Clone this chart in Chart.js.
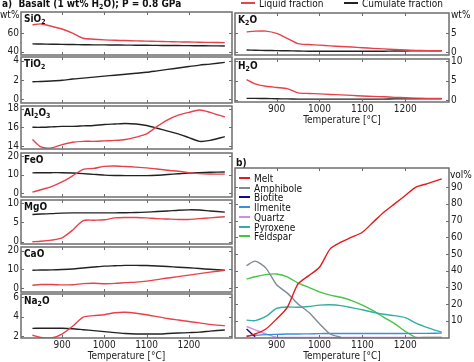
<!DOCTYPE html>
<html>
<head>
<meta charset="utf-8">
<script src="https://cdn.jsdelivr.net/npm/chart.js@4.4.1/dist/chart.umd.min.js"></script>
<style>
html, body { margin:0; padding:0; background:#fff; }
body { width:474px; height:362px; position:relative; overflow:hidden;
  font-family:"DejaVu Sans Condensed","DejaVu Sans",sans-serif; font-size:10px; color:#111; }
.box { position:absolute; }
.txt { position:absolute; white-space:nowrap; line-height:12px; height:12px; }
.b { font-weight:bold; }
sub { font-size:70%; vertical-align:-2px; line-height:0; }
.key i { display:inline-block; width:11px; height:2px; vertical-align:middle; margin-right:4px; position:relative; top:-1px; }
</style>
</head>
<body>
<script>
// temperature steps (°C) shared by all series
const temps = [830, 850, 875, 900, 925, 950, 975, 1000, 1025, 1050, 1075, 1100, 1125, 1150, 1175, 1200, 1225, 1250, 1285];
const xTicks = [900, 1000, 1100, 1200];

// a) oxide wt% in liquid / cumulate
const sio2Liq = [69, 70, 67.5, 64.5, 60, 54.5, 53.5, 52.8, 52.3, 52, 51.7, 51.4, 51.1, 50.9, 50.6, 50.4, 50.2, 50, 49.8];
const sio2Cum = [48.4, 48.3, 48.1, 47.9, 47.7, 47.5, 47.4, 47.3, 47.2, 47.1, 47, 46.9, 46.8, 46.7, 46.6, 46.5, 46.4, 46.3, 46.2];
const tio2Cum = [1.82, 1.85, 1.9, 1.97, 2.1, 2.2, 2.3, 2.4, 2.5, 2.6, 2.7, 2.8, 2.95, 3.1, 3.25, 3.4, 3.55, 3.65, 3.83];
const al2o3Liq = [14.7, 13.9, 13.8, 14.15, 14.4, 14.5, 14.5, 14.55, 14.6, 14.7, 14.95, 15.3, 16.1, 16.8, 17.3, 17.6, 17.85, 17.6, 17.1];
const al2o3Cum = [16.0, 16.0, 16.05, 16.1, 16.1, 16.15, 16.2, 16.3, 16.35, 16.4, 16.35, 16.2, 15.9, 15.6, 15.3, 14.9, 14.5, 14.6, 15.0];
const feoLiq = [0.5, 1.8, 3.5, 6.0, 9.3, 12.8, 13.3, 14.4, 14.6, 14.3, 14.0, 13.6, 13.0, 12.3, 11.8, 11.0, 10.5, 10.3, 10.2];
const feoCum = [10.9, 10.95, 11, 11, 10.8, 10.5, 10.1, 9.7, 9.5, 9.4, 9.4, 9.4, 9.6, 10, 10.4, 10.8, 11, 11.2, 11.4];
const mgoLiq = [0, 0.1, 0.4, 1.0, 3.0, 5.5, 5.6, 5.7, 6.2, 6.3, 6.3, 6.2, 6.0, 5.9, 5.8, 5.8, 6.0, 6.2, 6.5];
const mgoCum = [7.1, 7.2, 7.3, 7.45, 7.5, 7.5, 7.5, 7.5, 7.5, 7.55, 7.6, 7.7, 7.85, 8.0, 8.2, 8.3, 8.25, 8.0, 7.7];
const caoLiq = [1.6, 2.0, 2.0, 1.8, 1.9, 2.5, 2.7, 2.4, 2.6, 3.0, 3.3, 3.8, 4.6, 5.5, 6.2, 7.0, 7.8, 8.6, 9.6];
const caoCum = [9.6, 9.7, 9.8, 10.0, 10.3, 10.8, 11.3, 11.8, 12.0, 12.2, 12.2, 12.1, 11.9, 11.6, 11.2, 10.9, 10.5, 10.1, 9.6];
const na2oLiq = [2.07, 1.85, 1.8, 2.2, 3.0, 3.95, 4.1, 4.2, 4.4, 4.45, 4.35, 4.2, 4.0, 3.8, 3.65, 3.5, 3.35, 3.2, 3.05];
const na2oCum = [2.79, 2.8, 2.8, 2.8, 2.75, 2.65, 2.55, 2.45, 2.35, 2.25, 2.2, 2.2, 2.2, 2.25, 2.3, 2.35, 2.4, 2.5, 2.62];
const k2oLiq = [5.4, 5.6, 5.6, 5.0, 3.7, 2.3, 2.05, 1.9, 1.7, 1.55, 1.4, 1.2, 1.05, 0.9, 0.75, 0.6, 0.5, 0.45, 0.4];
const k2oCum = [0.6, 0.55, 0.5, 0.45, 0.4, 0.35, 0.3, 0.3, 0.3, 0.3, 0.3, 0.3, 0.3, 0.3, 0.35, 0.35, 0.4, 0.4, 0.4];
const h2oLiq = [5.3, 4.2, 3.6, 3.3, 3.0, 1.9, 1.75, 1.65, 1.5, 1.4, 1.25, 1.1, 1.0, 0.9, 0.75, 0.65, 0.55, 0.5, 0.5];
const h2oCum = [0.5, 0.5, 0.45, 0.4, 0.35, 0.3, 0.3, 0.3, 0.3, 0.3, 0.3, 0.3, 0.3, 0.3, 0.35, 0.35, 0.4, 0.4, 0.4];

// b) phase proportions, vol%
const phaseNames = ['Melt', 'Amphibole', 'Biotite', 'Ilmenite', 'Quartz', 'Pyroxene', 'Feldspar'];
const melt = [0.5, 2, 5, 11, 18, 32, 37, 42, 53, 57, 60, 63, 69, 75, 80, 85, 90, 92, 95];
const amphibole = [43, 45.7, 41.5, 31.5, 26.5, 20, 15, 8.2, 2, 0, null, null, null, null, null, null, null, null, null];
const biotite = [5, 0.3, null, null, null, null, null, null, null, null, null, null, null, null, null, null, null, null, null];
const ilmenite = [0.8, 1.2, 1.6, 1.8, 2, 2, 2.1, 2.2, 2.3, 2.3, 2.3, 2.3, 2.3, 2.3, 2.3, 2.3, 2.4, 2.4, 2.5];
const quartz = [6.5, 4.5, 2, 0, 0, 0, 0, 0, 0, 0, 0, 0, 0, 0, 0, 0, 0, 0, 0];
const pyroxene = [10.3, 10, 12.5, 17.3, 18.2, 18, 18.5, 19.3, 19.5, 19, 17.8, 16.5, 15, 13.8, 13, 11.8, 8.5, 6, 3];
const feldspar = [35, 36.3, 37.6, 38, 36.3, 32.5, 30, 27.3, 25.3, 24, 22, 19.3, 16, 12, 8.2, 3.6, 0, 0, 0];
const phaseValues = [melt, amphibole, biotite, ilmenite, quartz, pyroxene, feldspar];
const phaseColors = ['#e41a1c', '#808a94', '#0a0a9e', '#3a8ee0', '#d58be0', '#34aea5', '#46c446'];

const liqColor = '#e8414b';
const cumColor = '#222222';
const frameColor = '#6e6e6e';
const font = { family: "'DejaVu Sans Condensed', 'DejaVu Sans'", size: 10 };

const pts = (vals) => temps.map((t, i) => ({ x: t, y: vals[i] }));

// frame around the plot area + inward tick marks
const framePlugin = {
    id: 'frame',
    afterDatasetsDraw(chart) {
        const { ctx, chartArea: a, scales } = chart;
        ctx.save();
        ctx.strokeStyle = frameColor;
        ctx.lineWidth = 1.5;
        ctx.strokeRect(a.left, a.top, a.width, a.height);
        ctx.lineWidth = 1;
        ctx.beginPath();
        for (const v of xTicks) {
            const px = Math.round(scales.x.getPixelForValue(v)) + 0.5;
            ctx.moveTo(px, a.top); ctx.lineTo(px, a.top + 3);
            ctx.moveTo(px, a.bottom); ctx.lineTo(px, a.bottom - 3);
        }
        for (const t of scales.y.ticks) {
            const py = Math.round(scales.y.getPixelForValue(t.value)) + 0.5;
            ctx.moveTo(a.left, py); ctx.lineTo(a.left + 3, py);
            ctx.moveTo(a.right, py); ctx.lineTo(a.right - 3, py);
        }
        ctx.stroke();
        ctx.restore();
    }
};

const addText = (html, left, top, cls) => {
    const d = document.createElement('div');
    d.className = 'txt ' + (cls || '');
    d.style.left = left + 'px';
    d.style.top = top + 'px';
    d.innerHTML = html;
    document.body.appendChild(d);
    return d;
};

const addPanel = (p) => {
    const isLeft = p.side === 'left';
    const padTop = 8;
    const axisH = p.xAxis ? 24 : 8;
    const div = document.createElement('div');
    div.className = 'box';
    div.style.left = (isLeft ? 0 : 233) + 'px';
    div.style.top = (p.top - padTop) + 'px';
    div.style.width = (isLeft ? 233 : 241) + 'px';
    div.style.height = (p.bottom - p.top + padTop + axisH) + 'px';
    const cv = document.createElement('canvas');
    div.appendChild(cv);
    document.body.appendChild(div);

    new Chart(cv, {
        type: 'line',
        data: { datasets: p.series.map(s => ({
            label: s.label, data: pts(s.data), borderColor: s.color, borderWidth: 1.4,
            pointRadius: 0, tension: 0.25, fill: false, spanGaps: false
        })) },
        options: {
            responsive: true, maintainAspectRatio: false, animation: false,
            layout: { padding: { top: padTop, bottom: p.xAxis ? 0 : 8, left: isLeft ? 0 : 2, right: isLeft ? 1 : 0 } },
            plugins: { legend: { display: false }, tooltip: { enabled: false } },
            scales: {
                x: {
                    type: 'linear', min: 803, max: 1302, display: !!p.xAxis,
                    grid: { display: false, drawTicks: false }, border: { display: false },
                    afterBuildTicks: (s) => { s.ticks = xTicks.map(v => ({ value: v })); },
                    afterFit: (s) => { if (p.xAxis) s.height = 24; },
                    ticks: { font, color: '#222', padding: 1, maxRotation: 0, callback: (v) => String(v) },
                    title: { display: true, text: 'Temperature [°C]', font, color: '#222', padding: 0 }
                },
                y: {
                    type: 'linear', position: p.side, min: p.min, max: p.max,
                    grid: { display: false, drawTicks: false }, border: { display: false },
                    afterBuildTicks: (s) => { s.ticks = p.ticks.map(v => ({ value: v })); },
                    afterFit: (s) => { s.width = isLeft ? 21 : 25; },
                    ticks: { font, color: '#222', padding: 2, callback: (v) => String(v) }
                }
            }
        },
        plugins: [framePlugin]
    });
    if (p.label) addText(p.label, isLeft ? 24 : 238, p.top + 1, 'b');
};

const lc = (liq, cum) => {
    const s = [];
    if (liq) s.push({ label: 'Liquid fraction', data: liq, color: liqColor });
    if (cum) s.push({ label: 'Cumulate fraction', data: cum, color: cumColor });
    return s;
};

addPanel({ side: 'left', top: 12, bottom: 55, min: 36.4, max: 82.9, ticks: [40, 60], label: 'SiO<sub>2</sub>', series: lc(sio2Liq, sio2Cum) });
addPanel({ side: 'left', top: 57, bottom: 103, min: -0.39, max: 4.39, ticks: [0, 2, 4], label: 'TiO<sub>2</sub>', series: lc(null, tio2Cum) });
addPanel({ side: 'left', top: 106, bottom: 149, min: 13.68, max: 18.28, ticks: [14, 16, 18], label: 'Al<sub>2</sub>O<sub>3</sub>', series: lc(al2o3Liq, al2o3Cum) });
addPanel({ side: 'left', top: 153, bottom: 197, min: -2.1, max: 21.6, ticks: [0, 10, 20], label: 'FeO', series: lc(feoLiq, feoCum) });
addPanel({ side: 'left', top: 200, bottom: 244, min: -0.6, max: 10.86, ticks: [0, 5, 10], label: 'MgO', series: lc(mgoLiq, mgoCum) });
addPanel({ side: 'left', top: 247, bottom: 292, min: -1.97, max: 21.97, ticks: [0, 10, 20], label: 'CaO', series: lc(caoLiq, caoCum) });
addPanel({ side: 'left', top: 294, bottom: 338, min: 1.79, max: 6.34, ticks: [2, 4, 6], label: 'Na<sub>2</sub>O', series: lc(na2oLiq, na2oCum), xAxis: true });
addPanel({ side: 'right', top: 13, bottom: 55, min: -0.71, max: 10.4, ticks: [0, 5], label: 'K<sub>2</sub>O', series: lc(k2oLiq, k2oCum) });
addPanel({ side: 'right', top: 59, bottom: 102, min: -0.44, max: 10.6, ticks: [0, 5, 10], label: 'H<sub>2</sub>O', series: lc(h2oLiq, h2oCum), xAxis: true });
addPanel({ side: 'right', top: 168, bottom: 338, min: -0.4, max: 101.5, ticks: [10, 20, 30, 40, 50, 60, 70, 80, 90],
    series: phaseNames.map((n, i) => ({ label: n, data: phaseValues[i], color: phaseColors[i] })), xAxis: true });

// titles, unit labels, legends
addText('a)&nbsp; Basalt (1 wt% H<sub>2</sub>O); P = 0.8 GPa', 2, -2, 'b');
addText('wt%', 0, 9);
addText('wt%', 451, 9);
addText('vol%', 450, 169);
addText('b)', 236, 157, 'b');

const topKeys = [['Liquid fraction', liqColor, 241], ['Cumulate fraction', cumColor, 344]];
topKeys.forEach(([name, color, x]) => {
    addText('<i style="background:' + color + ';width:14px"></i>' + name, x, -2, 'key');
});
phaseNames.forEach((n, i) => {
    addText('<i style="background:' + phaseColors[i] + '"></i>' + n, 239, 173 + i * 9.7, 'key');
});
</script>
</body>
</html>
